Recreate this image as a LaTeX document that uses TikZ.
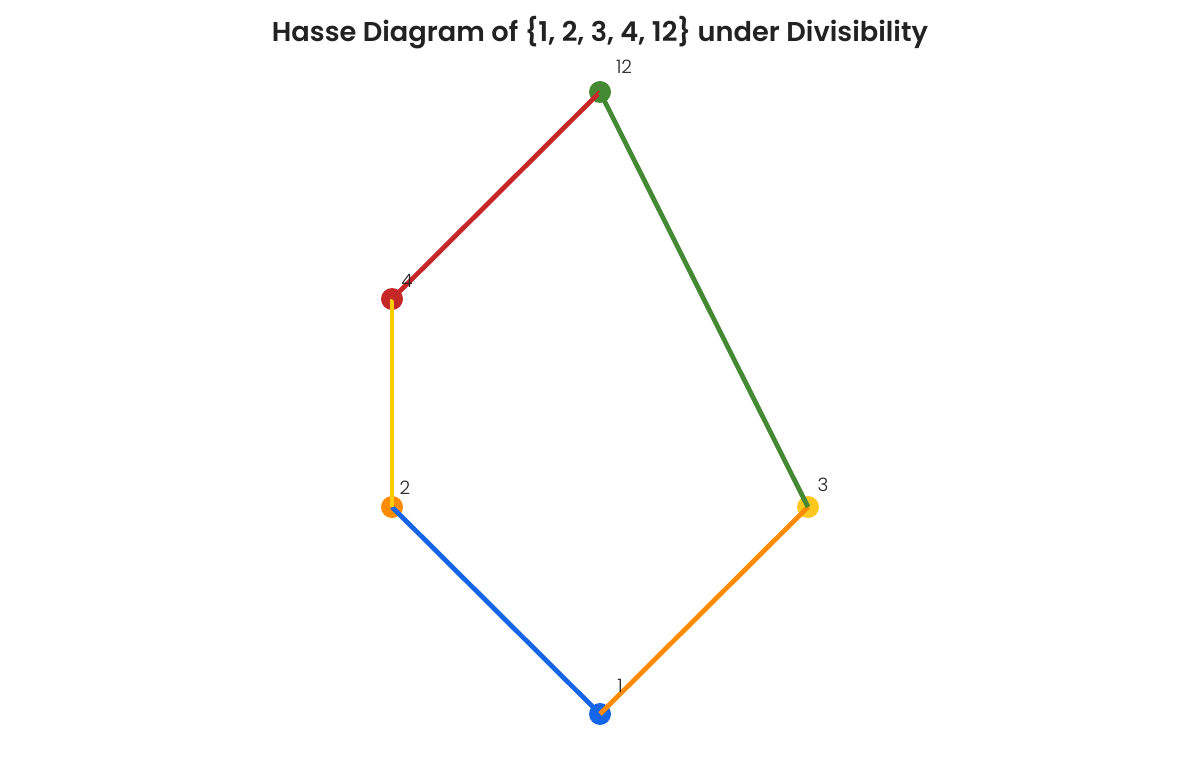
\documentclass[tikz,border=0pt]{standalone}
\usepackage{fontspec}
\setmainfont{Poppins}
\newfontfamily\titlefont{Poppins SemiBold}
\newfontfamily\labfont{Poppins Light}
\definecolor{cblue}{HTML}{1565E8}
\definecolor{corange}{HTML}{FF8C00}
\definecolor{cyellowE}{HTML}{FFCC00}
\definecolor{cyellowN}{HTML}{FFC820}
\definecolor{cred}{HTML}{C62828}
\definecolor{cgreen}{HTML}{448A34}
\definecolor{ctext}{HTML}{222222}
\tikzset{
  vtx/.style={circle, inner sep=0pt, minimum size=0.44cm},
  lab/.style={font=\labfont\fontsize{10.5}{12}\selectfont, text=ctext, inner sep=0pt},
  edge/.style={line width=2.7pt},
}
\begin{document}
\begin{tikzpicture}[x=0.02cm,y=-0.02cm]
\useasboundingbox (0,0) rectangle (1200,763);
\node[font=\titlefont\fontsize{15.5}{19}\selectfont, text=ctext] (title) at (600,33) {Hasse Diagram of \{1, 2, 3, 4, 12\} under Divisibility};
\node[vtx, fill=cgreen] (n12) at (600,92) {};
\node[vtx, fill=cred] (n4) at (392,299) {};
\node[vtx, fill=corange] (n2) at (392,507) {};
\node[vtx, fill=cyellowN] (n3) at (808,507) {};
\node[vtx, fill=cblue] (n1) at (600,714) {};
\draw[edge, cblue] (n2.center) -- (n1.center);
\draw[edge, corange] (n1.center) -- (n3.center);
\draw[edge, cyellowE] (n2.center) -- (n4.center);
\draw[edge, cred] (n4.center) -- (n12.center);
\draw[edge, cgreen] (n3.center) -- (n12.center);
\node[lab] (l12) at (624,67) {12};
\node[lab] (l4) at (407,281) {4};
\node[lab] (l2) at (405,488) {2};
\node[lab] (l3) at (823,485) {3};
\node[lab] (l1) at (620,686) {1};
\end{tikzpicture}
\end{document}
